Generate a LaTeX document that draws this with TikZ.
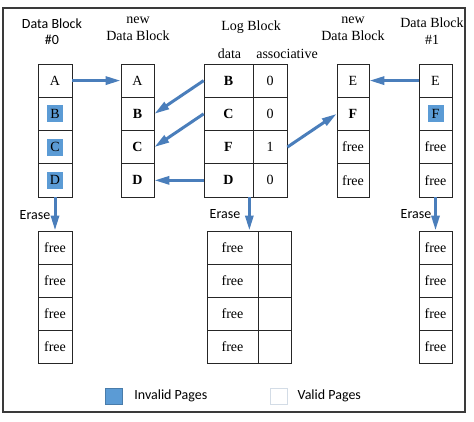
\documentclass[tikz,border=0pt]{standalone}
\usepackage{fontspec}
\setmainfont{Liberation Serif}
\newfontfamily\sansf{Carlito}
\usepackage{tikz}
\usetikzlibrary{arrows.meta,positioning,calc}
\definecolor{arrblue}{HTML}{4A7EBB}
\definecolor{invblue}{HTML}{5B9BD5}
\definecolor{framegray}{HTML}{3A3A3A}
\definecolor{validedge}{HTML}{D3DCE6}
\tikzset{
  cell/.style={draw=black!85, line width=.7pt, minimum height=33.25pt, inner sep=0pt, font=\fontsize{14}{16}\selectfont},
  cw/.style={cell, minimum width=#1pt},
  hd/.style={font=\fontsize{14}{16}\selectfont, inner sep=0pt},
  hds/.style={font=\sansf\fontsize{14}{16}\selectfont, inner sep=0pt},
  blu/.style={-{Triangle[length=15pt,width=8pt]}, line width=3pt, draw=arrblue},
  lbl/.style={font=\sansf\fontsize{14}{16}\selectfont, inner sep=0pt},
}
\newcommand{\inv}[1]{{\setlength{\fboxsep}{0pt}\colorbox{invblue}{\parbox[c][17pt][c]{16pt}{\centering #1}}}}

\begin{document}
\begin{tikzpicture}[x=1pt,y=-1pt]
  \useasboundingbox (0,0) rectangle (474,422);
  \draw[draw=framegray, line width=1.2pt] (3,8) rectangle (465,412);
  % top blocks
  \foreach \t [count=\i from 0] in {A,\inv{B},\inv{C},\inv{D}}{ \node[cw=34] (b0\i) at (55,80.6+\i*33.25) {\t}; }
  \foreach \t [count=\i from 0] in {A,\textbf{B},\textbf{C},\textbf{D}}{ \node[cw=33] (n0\i) at (137.5,80.6+\i*33.25) {\t}; }
  \foreach \t [count=\i from 0] in {\textbf{B},\textbf{C},\textbf{F},\textbf{D}}{ \node[cw=49] (lg\i) at (228.5,80.6+\i*33.25) {\t}; }
  \foreach \t [count=\i from 0] in {0,0,1,0}{ \node[cw=34] (la\i) at (270,80.6+\i*33.25) {\t}; }
  \foreach \t [count=\i from 0] in {E,\textbf{F},free,free}{ \node[cw=32] (n1\i) at (353,80.6+\i*33.25) {\t}; }
  \foreach \t [count=\i from 0] in {E,\inv{F},free,free}{ \node[cw=33] (b1\i) at (435.5,80.6+\i*33.25) {\t}; }
  % erased blocks
  \foreach \i in {0,1,2,3}{
    \node[cw=34] (e0\i) at (55,247.5+\i*33) {free};
    \node[cw=51] (ed\i) at (232.5,247.5+\i*33) {free};
    \node[cw=33] (ea\i) at (274.5,247.5+\i*33) {};
    \node[cw=33] (e1\i) at (435.5,247.5+\i*33) {free};
  }
  % headings
  \node[hds] (h0a) at (52,24) {Data Block};
  \node[hds] (h0b) at (52,40) {\#0};
  \node[hd] (hn0a) at (138,20) {new};
  \node[hd] (hn0b) at (138,36) {Data Block};
  \node[hd] (hlog) at (251,27) {Log Block};
  \node[hd] (hdat) at (229.5,54) {data};
  \node[hd] (hasc) at (287,54) {associative};
  \node[hd] (hn1a) at (353,20) {new};
  \node[hd] (hn1b) at (353,36) {Data Block};
  \node[hd] (h1a) at (432,23) {Data Block};
  \node[hd] (h1b) at (432,40) {\#1};
  % moves
  \draw[blu] (b00.east) -- (n00.west);
  \draw[blu] (lg0.west) -- (n01.east);
  \draw[blu] (lg1.west) -- (n02.east);
  \draw[blu] (lg3.west) -- (n03.east);
  \draw[blu] (la2.east) -- (n11.west);
  \draw[blu] (b10.west) -- (n10.east);
  % erase
  \draw[blu] (b03.south) -- (e00.north);
  \draw[blu] ([xshift=-4pt]lg3.south east) -- ([xshift=-4pt]lg3.south east |- ed0.north);
  \draw[blu] (b13.south) -- (e10.north);
  \node[lbl] (er0) at (35,215) {Erase};
  \node[lbl] (er1) at (225,214) {Erase};
  \node[lbl] (er2) at (416,214) {Erase};
  % legend
  \node[draw=invblue!80!black, line width=.3pt, fill=invblue, minimum width=17pt, minimum height=16pt, inner sep=0pt] (kinv) at (113.5,396) {};
  \node[lbl, right=12pt of kinv] (tinv) {Invalid Pages};
  \node[draw=validedge, line width=.8pt, fill=white, minimum width=17pt, minimum height=16pt, inner sep=0pt] (kval) at (278.5,396) {};
  \node[lbl, right=10pt of kval] (tval) {Valid Pages};
\end{tikzpicture}
\end{document}
